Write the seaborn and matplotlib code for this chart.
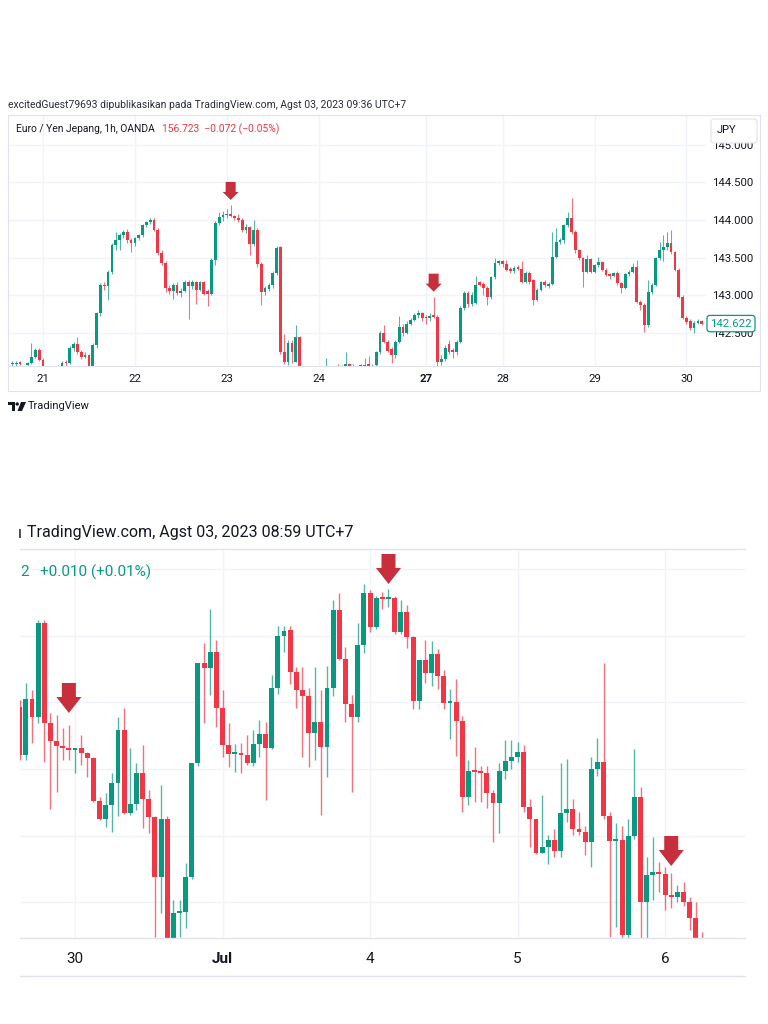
"""
plot.py

Two stacked TradingView EUR/JPY hourly candlestick screenshots,
rebuilt with seaborn styling on top of matplotlib axes.
"""

import numpy as np
import pandas as pd
import matplotlib
matplotlib.use("Agg")
import matplotlib.pyplot as plt
import matplotlib.patches as mpatches
from matplotlib.transforms import blended_transform_factory
import seaborn as sns

# ---------------------------- CONFIG ---------------------------------

W, H = 768, 1024
GREEN = "#089981"
RED = "#f23645"
ARROW = "#c62f3b"
GRID = "#f0f3fa"
BORDER = "#e0e3eb"
TEXT = "#131722"

# ---------------------- TOP CHART DATA (1h bars) ---------------------

TOP_OPEN = [
    142.02, 142.08, 142.08, 142.11, 142.05, 142.07, 142.10, 142.18, 142.27, 142.14,
    142.02, 141.95, 141.98, 141.93, 142.05, 142.11, 142.10, 142.30, 142.35, 142.24,
    142.18, 142.20, 142.05, 142.34, 142.76, 143.14, 143.12, 143.31, 143.67, 143.73,
    143.80, 143.84, 143.73, 143.69, 143.76, 143.80, 143.93, 143.97, 144.00, 143.87,
    143.56, 143.43, 143.10, 143.06, 143.14, 143.03, 143.06, 143.18, 143.12, 143.17,
    143.07, 143.17, 143.05, 143.02, 143.47, 143.96, 144.04, 144.07, 144.08, 144.05,
    144.03, 144.00, 143.86, 143.90, 143.68, 143.87, 143.41, 143.04, 143.08, 143.13,
    143.29, 143.64, 142.25, 142.11, 142.37, 142.11, 142.44, 141.98, 141.90, 141.95,
    141.85, 141.92, 141.97, 141.93, 142.00, 141.96, 142.06, 142.03, 142.05, 142.08,
    142.06, 141.98, 142.02, 142.07, 142.08, 142.02, 142.07, 142.24, 142.50, 142.38,
    142.28, 142.20, 142.38, 142.58, 142.50, 142.62, 142.67, 142.74, 142.76, 142.71,
    142.69, 142.73, 142.71, 142.11, 142.15, 142.35, 142.27, 142.24, 142.38, 142.83,
    143.03, 142.88, 142.90, 143.17, 143.15, 143.10, 142.97, 143.24, 143.43, 143.45,
    143.41, 143.35, 143.32, 143.37, 143.35, 143.18, 143.30, 143.20, 142.94, 143.07,
    143.17, 143.12, 143.15, 143.51, 143.71, 143.73, 143.93, 144.03, 143.84, 143.60,
    143.49, 143.31, 143.48, 143.31, 143.40, 143.44, 143.34, 143.27, 143.26, 143.30,
    143.16, 143.10, 143.28, 143.31, 143.38, 142.91, 142.87, 142.60, 143.04, 143.14,
    143.49, 143.60, 143.64, 143.69, 143.57, 143.34, 142.98, 142.70, 142.66, 142.56,
    142.63, 142.65,
]
TOP_HIGH = [
    142.05, 142.13, 142.12, 142.13, 142.06, 142.11, 142.36, 142.30, 142.30, 142.17,
    142.04, 142.00, 142.01, 142.07, 142.12, 142.14, 142.32, 142.38, 142.44, 142.27,
    142.24, 142.22, 142.36, 142.78, 143.16, 143.17, 143.33, 143.69, 143.84, 143.83,
    143.87, 143.88, 143.76, 143.78, 143.82, 143.95, 143.99, 144.02, 144.02, 143.89,
    143.60, 143.45, 143.13, 143.16, 143.17, 143.09, 143.20, 143.20, 143.20, 143.19,
    143.19, 143.19, 143.08, 143.50, 143.98, 144.10, 144.12, 144.15, 144.20, 144.07,
    144.08, 144.02, 143.95, 143.92, 144.00, 143.89, 143.44, 143.12, 143.16, 143.32,
    143.66, 143.66, 142.48, 142.40, 142.40, 142.60, 142.46, 142.00, 141.97, 141.98,
    141.94, 142.00, 142.00, 142.16, 142.03, 142.05, 142.08, 142.07, 142.24, 142.10,
    142.08, 142.04, 142.09, 142.16, 142.19, 142.08, 142.26, 142.52, 142.60, 142.41,
    142.31, 142.40, 142.72, 142.62, 142.65, 142.70, 142.76, 142.80, 142.78, 142.74,
    142.76, 142.98, 142.73, 142.20, 142.34, 142.40, 142.30, 142.40, 142.85, 143.05,
    143.05, 143.04, 143.25, 143.19, 143.17, 143.12, 143.26, 143.49, 143.47, 143.47,
    143.47, 143.38, 143.39, 143.40, 143.45, 143.32, 143.32, 143.22, 143.09, 143.19,
    143.20, 143.17, 143.84, 143.89, 143.76, 143.95, 144.11, 144.29, 143.86, 143.62,
    143.51, 143.53, 143.50, 143.42, 143.51, 143.46, 143.36, 143.30, 143.31, 143.32,
    143.18, 143.30, 143.33, 143.43, 143.47, 142.93, 142.89, 143.20, 143.16, 143.51,
    143.71, 143.80, 143.84, 143.87, 143.59, 143.36, 143.00, 142.72, 142.68, 142.66,
    142.68, 142.67,
]
TOP_LOW = [
    141.99, 142.06, 142.06, 142.07, 141.97, 142.05, 142.08, 142.16, 142.12, 141.98,
    141.92, 141.90, 141.90, 141.91, 142.03, 142.06, 142.08, 142.26, 142.22, 142.15,
    142.16, 142.00, 142.02, 142.30, 142.72, 143.07, 142.94, 143.28, 143.60, 143.60,
    143.76, 143.70, 143.57, 143.66, 143.73, 143.78, 143.90, 143.95, 143.85, 143.53,
    143.40, 143.04, 143.02, 142.95, 143.00, 142.98, 143.04, 142.68, 143.08, 142.88,
    143.05, 143.00, 142.85, 143.00, 143.40, 143.93, 143.98, 144.03, 144.04, 144.00,
    143.97, 143.84, 143.83, 143.53, 143.66, 143.38, 142.87, 143.00, 143.05, 143.10,
    143.27, 142.22, 142.08, 142.07, 142.10, 142.12, 141.90, 141.85, 141.86, 141.82,
    141.82, 141.88, 141.90, 141.90, 141.92, 141.93, 142.00, 142.00, 142.02, 142.03,
    141.95, 141.95, 142.00, 142.03, 142.00, 142.00, 142.05, 142.22, 142.36, 142.24,
    142.10, 142.17, 142.36, 142.46, 142.48, 142.60, 142.65, 142.70, 142.66, 142.62,
    142.66, 142.69, 142.05, 142.07, 142.12, 142.22, 142.16, 142.20, 142.36, 142.80,
    142.84, 142.85, 142.88, 143.12, 143.00, 142.87, 142.95, 143.22, 143.40, 143.38,
    143.32, 143.29, 143.30, 143.33, 143.16, 143.16, 143.15, 142.87, 142.92, 143.05,
    143.11, 143.10, 143.13, 143.49, 143.68, 143.70, 143.91, 143.82, 143.56, 143.47,
    143.11, 143.29, 143.29, 143.29, 143.38, 143.32, 143.25, 143.22, 143.24, 143.14,
    143.03, 143.08, 143.26, 143.29, 142.89, 142.80, 142.51, 142.58, 143.02, 143.12,
    143.47, 143.45, 143.60, 143.55, 143.32, 142.96, 142.68, 142.62, 142.54, 142.50,
    142.61, 142.60,
]
TOP_CLOSE = [
    142.04, 142.10, 142.10, 142.09, 142.00, 142.10, 142.18, 142.27, 142.14, 142.02,
    141.95, 141.98, 141.93, 142.05, 142.10, 142.10, 142.30, 142.35, 142.24, 142.18,
    142.20, 142.03, 142.34, 142.76, 143.14, 143.12, 143.31, 143.67, 143.73, 143.80,
    143.84, 143.73, 143.69, 143.76, 143.80, 143.93, 143.97, 144.00, 143.87, 143.56,
    143.43, 143.10, 143.06, 143.14, 143.03, 143.06, 143.18, 143.12, 143.17, 143.07,
    143.17, 143.02, 143.02, 143.47, 143.96, 144.04, 144.07, 144.08, 144.05, 144.03,
    144.00, 143.86, 143.90, 143.68, 143.87, 143.41, 143.04, 143.10, 143.13, 143.29,
    143.63, 142.25, 142.11, 142.37, 142.25, 142.44, 141.98, 141.90, 141.95, 141.85,
    141.92, 141.97, 141.93, 142.00, 141.96, 142.02, 142.03, 142.05, 142.08, 142.06,
    141.98, 142.02, 142.07, 142.06, 142.02, 142.05, 142.24, 142.50, 142.38, 142.26,
    142.20, 142.38, 142.58, 142.50, 142.62, 142.67, 142.74, 142.76, 142.70, 142.69,
    142.72, 142.71, 142.11, 142.15, 142.30, 142.25, 142.24, 142.38, 142.83, 143.03,
    142.88, 143.00, 143.14, 143.14, 143.10, 142.97, 143.24, 143.43, 143.45, 143.41,
    143.34, 143.32, 143.36, 143.35, 143.18, 143.30, 143.18, 142.94, 143.07, 143.17,
    143.14, 143.15, 143.51, 143.71, 143.73, 143.93, 144.03, 143.84, 143.60, 143.49,
    143.31, 143.48, 143.31, 143.40, 143.44, 143.34, 143.27, 143.26, 143.29, 143.16,
    143.10, 143.28, 143.31, 143.38, 142.91, 142.87, 142.60, 143.04, 143.14, 143.49,
    143.60, 143.64, 143.69, 143.57, 143.34, 142.98, 142.70, 142.64, 142.56, 142.63,
    142.65, 142.622,
]

TOP_DAY_BARS = [9, 33, 57, 81, 109, 129, 153, 177]
TOP_DAY_LABELS = ["21", "22", "23", "24", "27", "28", "29", "30"]
TOP_PRICE_TICKS = [142.5, 143.0, 143.5, 144.0, 144.5, 145.0]
TOP_ARROW_BARS = [58, 111]
TOP_XLIM = (-0.13, 182.11)
TOP_YLIM = (142.058, 145.396)

# -------------------- BOTTOM CHART DATA (1h bars) --------------------

BOT_OPEN = [
    157.586, 157.442, 157.610, 157.556, 157.838, 157.538, 157.484, 157.469, 157.463, 157.457,
    157.463, 157.448, 157.433, 157.304, 157.250, 157.292, 157.358, 157.517, 157.268, 157.295,
    157.388, 157.310, 157.256, 157.076, 157.250, 156.880, 156.968, 156.971, 157.076, 157.418,
    157.718, 157.703, 157.751, 157.583, 157.472, 157.445, 157.448, 157.442, 157.418, 157.475,
    157.505, 157.463, 157.643, 157.799, 157.817, 157.691, 157.637, 157.619, 157.508, 157.541,
    157.466, 157.643, 157.877, 157.730, 157.595, 157.556, 157.772, 157.928, 157.826, 157.913,
    157.910, 157.913, 157.811, 157.871, 157.796, 157.604, 157.727, 157.688, 157.745, 157.679,
    157.598, 157.601, 157.544, 157.316, 157.394, 157.391, 157.388, 157.328, 157.298, 157.394,
    157.424, 157.436, 157.451, 157.286, 157.250, 157.148, 157.166, 157.187, 157.154, 157.268,
    157.280, 157.220, 157.211, 157.181, 157.400, 157.421, 157.259, 157.184, 157.187, 156.902,
    157.199, 157.316, 157.000, 157.082, 157.091, 157.085, 157.022, 157.016, 157.031, 157.001,
    156.953, 156.893,
]
BOT_HIGH = [
    157.607, 157.658, 157.637, 157.847, 157.847, 157.568, 157.562, 157.523, 157.532, 157.463,
    157.502, 157.452, 157.436, 157.316, 157.328, 157.388, 157.556, 157.583, 157.463, 157.418,
    157.472, 157.337, 157.260, 157.352, 157.260, 157.007, 157.007, 157.118, 157.418, 157.718,
    157.778, 157.880, 157.787, 157.637, 157.538, 157.475, 157.478, 157.502, 157.517, 157.547,
    157.542, 157.682, 157.830, 157.830, 157.830, 157.706, 157.706, 157.644, 157.706, 157.637,
    157.709, 157.907, 157.928, 157.766, 157.622, 157.838, 157.955, 157.938, 157.920, 157.930,
    157.940, 157.918, 157.907, 157.893, 157.800, 157.727, 157.787, 157.785, 157.760, 157.697,
    157.640, 157.670, 157.560, 157.427, 157.466, 157.410, 157.410, 157.337, 157.418, 157.487,
    157.487, 157.480, 157.472, 157.310, 157.250, 157.322, 157.202, 157.220, 157.419, 157.430,
    157.310, 157.271, 157.230, 157.436, 157.493, 157.718, 157.271, 157.238, 157.230, 157.250,
    157.460, 157.346, 157.136, 157.196, 157.121, 157.106, 157.088, 157.052, 157.061, 157.016,
    157.000, 156.911,
]
BOT_LOW = [
    157.427, 157.427, 157.478, 157.538, 157.421, 157.280, 157.331, 157.427, 157.427, 157.388,
    157.412, 157.376, 157.300, 157.247, 157.226, 157.211, 157.260, 157.265, 157.262, 157.277,
    157.223, 157.208, 156.896, 156.968, 156.850, 156.850, 156.896, 156.923, 157.070, 157.410,
    157.538, 157.622, 157.526, 157.436, 157.406, 157.391, 157.388, 157.412, 157.410, 157.436,
    157.307, 157.460, 157.625, 157.751, 157.655, 157.582, 157.436, 157.406, 157.427, 157.262,
    157.376, 157.620, 157.727, 157.541, 157.331, 157.541, 157.748, 157.810, 157.820, 157.880,
    157.886, 157.805, 157.805, 157.763, 157.580, 157.580, 157.658, 157.650, 157.640, 157.580,
    157.490, 157.439, 157.271, 157.292, 157.300, 157.300, 157.283, 157.181, 157.208, 157.370,
    157.400, 157.420, 157.270, 157.166, 157.145, 157.148, 157.115, 157.136, 157.136, 157.241,
    157.202, 157.202, 157.142, 157.106, 157.380, 157.250, 156.896, 156.926, 156.893, 156.893,
    157.190, 156.880, 156.880, 157.007, 157.031, 156.977, 156.983, 157.000, 156.990, 156.917,
    156.870, 156.850,
]
BOT_CLOSE = [
    157.442, 157.610, 157.556, 157.838, 157.538, 157.484, 157.469, 157.463, 157.457, 157.463,
    157.448, 157.433, 157.304, 157.250, 157.292, 157.358, 157.517, 157.268, 157.295, 157.388,
    157.310, 157.256, 157.076, 157.250, 156.880, 156.968, 156.971, 157.076, 157.418, 157.718,
    157.703, 157.751, 157.583, 157.472, 157.445, 157.448, 157.442, 157.418, 157.475, 157.505,
    157.463, 157.643, 157.799, 157.814, 157.691, 157.637, 157.619, 157.508, 157.541, 157.466,
    157.643, 157.877, 157.730, 157.595, 157.556, 157.772, 157.928, 157.826, 157.913, 157.910,
    157.913, 157.811, 157.871, 157.796, 157.604, 157.727, 157.688, 157.745, 157.679, 157.598,
    157.601, 157.544, 157.316, 157.394, 157.391, 157.388, 157.328, 157.298, 157.394, 157.424,
    157.436, 157.451, 157.286, 157.250, 157.148, 157.166, 157.187, 157.154, 157.268, 157.280,
    157.220, 157.211, 157.181, 157.400, 157.421, 157.259, 157.184, 157.187, 156.902, 157.199,
    157.316, 157.000, 157.082, 157.091, 157.085, 157.022, 157.016, 157.031, 157.001, 156.953,
    156.893, 156.860,
]

BOT_DAY_BARS = [9, 33, 57, 81, 105]
BOT_DAY_LABELS = ["30", "Jul", "4", "5", "6"]
BOT_GRID = [157.0, 157.2, 157.4, 157.6, 157.8, 158.0]
BOT_ARROW_BARS = [8, 60, 106]
BOT_XLIM = (0.05, 118.0)
BOT_YLIM = (156.893, 158.06)


# ---------------------- UTILS ----------------------------------------


def fig_rect(left, top, right, bottom):
    # pixel box (origin top-left) -> figure fraction rect
    return [left / W, 1 - bottom / H, (right - left) / W, (bottom - top) / H]


def make_frame(o, h, l, c):
    df = pd.DataFrame({"open": o, "high": h, "low": l, "close": c})
    df["bar"] = np.arange(len(df))
    return df


def draw_candles(ax, df, body_w, wick_lw, min_px):
    up = df["close"] >= df["open"]
    colors = np.where(up, GREEN, RED)
    lo = np.minimum(df["open"], df["close"])
    hi = np.maximum(df["open"], df["close"])
    y0, y1 = ax.get_ylim()
    ax_h = ax.get_position().height * H
    min_h = (y1 - y0) * min_px / ax_h
    ax.vlines(df["bar"], np.minimum(df["low"], lo), np.maximum(df["high"], hi),
              colors=colors, linewidth=wick_lw, alpha=0.7, zorder=2)
    ax.bar(df["bar"], np.maximum(hi - lo, min_h), bottom=lo, width=body_w,
           color=colors, linewidth=0, zorder=3)


def mark_arrow(ax, bar, high, gap_px, length_px, head_w, head_l, tail_w):
    px = 0.72  # points per pixel at dpi 100
    scale = 10
    unit = scale / px
    style = (f"simple,head_length={head_l / unit:.3f},"
             f"head_width={head_w / unit:.3f},tail_width={tail_w / unit:.3f}")
    ax.annotate("", xy=(bar, high), xytext=(0, (gap_px + length_px) * px),
                textcoords="offset points", annotation_clip=False,
                arrowprops=dict(arrowstyle=style, color=ARROW, lw=0,
                                shrinkA=0, shrinkB=gap_px * px,
                                mutation_scale=scale),
                zorder=6)


def style_chart(ax, xlim, ylim):
    ax.set_xlim(*xlim)
    ax.set_ylim(*ylim)
    ax.set_facecolor("white")
    ax.grid(True, color=GRID, linewidth=1.0, zorder=0)
    ax.set_axisbelow(True)
    sns.despine(ax=ax, left=True, bottom=True, right=True, top=True)


# ---------------------- FIGURE ---------------------------------------


def main():
    sns.set_theme(style="white")
    plt.rcParams["font.family"] = ["Roboto", "DejaVu Sans"]

    top = make_frame(TOP_OPEN, TOP_HIGH, TOP_LOW, TOP_CLOSE)
    bot = make_frame(BOT_OPEN, BOT_HIGH, BOT_LOW, BOT_CLOSE)

    fig = plt.figure(figsize=(W / 100, H / 100), dpi=100)
    fig.patch.set_facecolor("white")

    # ---- top chart ----
    ax1 = fig.add_axes(fig_rect(8, 115, 706, 366))
    style_chart(ax1, TOP_XLIM, TOP_YLIM)
    draw_candles(ax1, top, body_w=0.72, wick_lw=0.75, min_px=1.2)
    ax1.set_xticks(TOP_DAY_BARS)
    ax1.set_xticklabels(TOP_DAY_LABELS)
    ax1.set_yticks(TOP_PRICE_TICKS)
    ax1.set_yticklabels([f"{v:.3f}" for v in TOP_PRICE_TICKS])
    ax1.yaxis.tick_right()
    ax1.tick_params(axis="y", length=0, pad=4.5, labelsize=8.2, labelcolor=TEXT)
    ax1.tick_params(axis="x", length=0, pad=5.5, labelsize=8.2, labelcolor=TEXT)
    ax1.get_xticklabels()[TOP_DAY_LABELS.index("27")].set_fontweight("bold")
    for b in TOP_ARROW_BARS:
        mark_arrow(ax1, b, TOP_HIGH[b], gap_px=5, length_px=18,
                   head_w=16, head_l=8, tail_w=10)
    last = TOP_CLOSE[-1]
    ax1.text(1.0358, last, f"{last:.3f}",
             transform=blended_transform_factory(ax1.transAxes, ax1.transData),
             ha="center", va="center", fontsize=8.2, color=GREEN, clip_on=False,
             bbox=dict(boxstyle="round,pad=0.28,rounding_size=0.25",
                       fc="white", ec=GREEN, lw=0.9), zorder=7)

    # ---- bottom chart ----
    ax2 = fig.add_axes(fig_rect(20, 549, 745, 938))
    style_chart(ax2, BOT_XLIM, BOT_YLIM)
    draw_candles(ax2, bot, body_w=0.8, wick_lw=1.0, min_px=2.0)
    ax2.set_xticks(BOT_DAY_BARS)
    ax2.set_xticklabels(BOT_DAY_LABELS)
    ax2.set_yticks(BOT_GRID)
    ax2.tick_params(axis="y", length=0, labelleft=False, labelright=False)
    ax2.tick_params(axis="x", length=0, pad=10, labelsize=11, labelcolor=TEXT)
    ax2.get_xticklabels()[BOT_DAY_LABELS.index("Jul")].set_fontweight("bold")
    gaps = {8: 12, 60: 5, 106: 7}
    for b in BOT_ARROW_BARS:
        mark_arrow(ax2, b, BOT_HIGH[b], gap_px=gaps[b], length_px=30,
                   head_w=25, head_l=16, tail_w=14)

    # ---- overlay in pixel coords: frames, headers, logo ----
    ov = fig.add_axes([0, 0, 1, 1], zorder=10)
    ov.set_xlim(0, W)
    ov.set_ylim(H, 0)
    ov.axis("off")

    ov.plot([8, 760, 760, 8, 8], [115, 115, 391, 391, 115], color=BORDER, lw=0.8)
    ov.plot([8, 760], [366, 366], color=BORDER, lw=0.8)
    for yy in (549, 938, 976):
        ov.plot([20, 745], [yy, yy], color=BORDER, lw=1.0)

    ov.text(8, 105, "excitedGuest79693 dipublikasikan pada TradingView.com, "
            "Agst 03, 2023 09:36 UTC+7", fontsize=7.5, color="#2a2e39",
            ha="left", va="center")
    ov.text(16, 129, "Euro / Yen Jepang, 1h, OANDA", fontsize=7.4, color=TEXT,
            ha="left", va="center")
    ov.text(162, 129, "156.723  \u22120.072 (\u22120.05%)", fontsize=7.4,
            color=RED, ha="left", va="center")

    ov.add_patch(mpatches.FancyBboxPatch((711, 119), 46, 24,
                                         boxstyle="round,pad=0,rounding_size=3",
                                         fc="white", ec=BORDER, lw=0.8))
    ov.text(717, 130, "JPY", fontsize=8, color=TEXT, ha="left", va="center")

    # TradingView logo + wordmark
    ov.add_patch(mpatches.Rectangle((8, 402), 7, 3, fc=TEXT, lw=0))
    ov.add_patch(mpatches.Rectangle((11.5, 402), 3, 9, fc=TEXT, lw=0))
    ov.add_patch(mpatches.Circle((17.2, 404), 1.7, fc=TEXT, lw=0))
    ov.add_patch(mpatches.Polygon([(21, 402), (26, 402), (22, 411), (17.5, 411)],
                                  closed=True, fc=TEXT, lw=0))
    ov.text(28, 406, "TradingView", fontsize=8, color=TEXT, ha="left", va="center")

    # bottom headers (the screenshot is cropped on the left)
    ov.text(18, 533, "\u0131", fontsize=11.5, color=TEXT, ha="left", va="center")
    ov.text(27, 533, "TradingView.com, Agst 03, 2023 08:59 UTC+7", fontsize=11.5,
            color=TEXT, ha="left", va="center")
    ov.text(20, 572, "2", fontsize=11, color=GREEN, ha="left", va="center")
    ov.text(40, 572, "+0.010 (+0.01%)", fontsize=11, color=GREEN,
            ha="left", va="center")

    fig.savefig("out.png", dpi=100, facecolor="white")
    plt.close(fig)


if __name__ == "__main__":
    main()
